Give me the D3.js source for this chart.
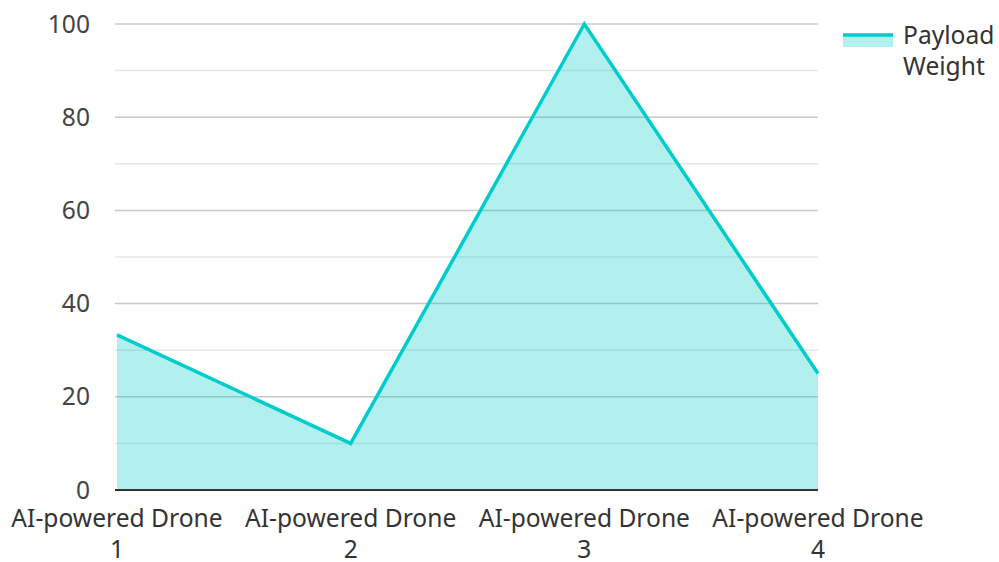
<!DOCTYPE html>
<html>
  <head>
    <meta http-equiv="content-type" content="text/html; charset=UTF-8">
    <title>Payload Weight</title>
    <script type='text/javascript' src='https://cdn.jsdelivr.net/npm/d3@7'></script>
    <style type='text/css'>
      body { margin: 0; background-color: white; }
      text { font-family: 'Noto Sans', 'Open Sans', sans-serif; }
    </style>
  </head>
  <body>
    <script type='text/javascript'>
      var categories = ['AI-powered Drone 1', 'AI-powered Drone 2', 'AI-powered Drone 3', 'AI-powered Drone 4'];
      var payload = [33.3, 10, 100, 25];
      var seriesName = ['Payload', 'Weight'];
      var majorTicks = [0, 20, 40, 60, 80, 100];
      var minorTicks = [10, 30, 50, 70, 90];

      var w = 999, h = 562;
      var mLeft = 117, mRight = 818, mTop = 24, mBottom = 490;
      var teal = '#00cccc';
      var fs = '24.6px';

      var svg = d3.select('body').append('svg')
        .attr('width', w).attr('height', h);

      var x = d3.scalePoint().domain(categories).range([mLeft, mRight]);
      var y = d3.scaleLinear().domain([0, 100]).range([mBottom, mTop]);

      // grid
      svg.selectAll('line.minor').data(minorTicks).enter().append('line')
        .attr('x1', mLeft - 2).attr('x2', mRight)
        .attr('y1', d => y(d)).attr('y2', d => y(d))
        .style('stroke', '#e6e6e6').style('stroke-width', 1.5);
      svg.selectAll('line.major').data(majorTicks.filter(d => d > 0)).enter().append('line')
        .attr('x1', mLeft - 2).attr('x2', mRight)
        .attr('y1', d => y(d)).attr('y2', d => y(d))
        .style('stroke', '#c8c8c8').style('stroke-width', 1.5);

      // y labels
      svg.selectAll('text.ytick').data(majorTicks).enter().append('text')
        .attr('x', 90).attr('y', d => y(d))
        .attr('dy', '0.35em')
        .attr('text-anchor', 'end')
        .style('font-size', fs).style('fill', '#444')
        .text(d => d);

      var pts = categories.map((c, i) => [c, payload[i]]);

      var area = d3.area().x(d => x(d[0])).y0(y(0)).y1(d => y(d[1]));
      var line = d3.line().x(d => x(d[0])).y(d => y(d[1]));

      svg.append('path').datum(pts).attr('d', area)
        .style('fill', teal).style('fill-opacity', 0.3);

      // baseline
      svg.append('line')
        .attr('x1', mLeft - 2).attr('x2', mRight)
        .attr('y1', y(0)).attr('y2', y(0))
        .style('stroke', '#333').style('stroke-width', 2);

      svg.append('path').datum(pts).attr('d', line)
        .style('fill', 'none').style('stroke', teal)
        .style('stroke-width', 3.5).style('stroke-linejoin', 'miter');

      // x labels
      var xl = svg.selectAll('text.xtick').data(categories).enter().append('text')
        .attr('x', d => x(d)).attr('y', 527)
        .attr('text-anchor', 'middle')
        .style('font-size', fs).style('fill', '#333');
      xl.append('tspan').attr('x', d => x(d)).text(d => d.replace(/ \d+$/, ''));
      xl.append('tspan').attr('x', d => x(d)).attr('dy', 31).text(d => d.match(/\d+$/)[0]);

      // legend
      svg.append('rect').attr('x', 843).attr('y', 34).attr('width', 50).attr('height', 13)
        .style('fill', teal).style('fill-opacity', 0.3);
      svg.append('line').attr('x1', 843).attr('x2', 893).attr('y1', 35).attr('y2', 35)
        .style('stroke', teal).style('stroke-width', 3.5);
      svg.selectAll('text.legend').data(seriesName).enter().append('text')
        .attr('x', 903).attr('y', (d, i) => 44 + i * 31)
        .style('font-size', fs).style('fill', '#333')
        .text(d => d);
    </script>
  </body>
</html>
